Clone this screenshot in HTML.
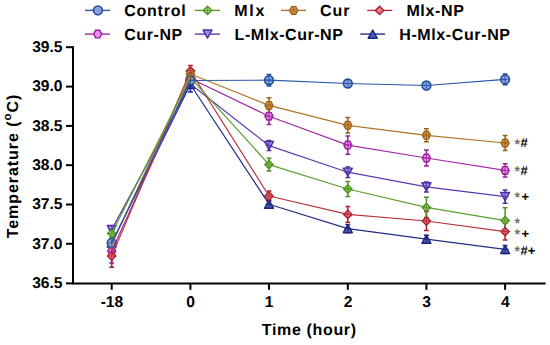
<!DOCTYPE html>
<html><head><meta charset="utf-8"><style>
html,body{margin:0;padding:0;background:#fff;}
body{width:550px;height:345px;overflow:hidden;font-family:"Liberation Sans",sans-serif;}
svg{display:block;}
</style></head><body>
<svg width="550" height="345" viewBox="0 0 550 345" style="text-rendering:geometricPrecision">
<g stroke="#000" stroke-width="2" fill="none">
<path d="M73 46.3V284.4M72 283.4H545.6"/>
<path d="M66 47.2H73"/>
<path d="M66 86.6H73"/>
<path d="M66 125.9H73"/>
<path d="M66 165.2H73"/>
<path d="M66 204.5H73"/>
<path d="M66 243.8H73"/>
<path d="M66 283.4H73"/>
<path d="M111.7 283.4V289.8"/>
<path d="M190.4 283.4V289.8"/>
<path d="M269.0 283.4V289.8"/>
<path d="M347.8 283.4V289.8"/>
<path d="M426.4 283.4V289.8"/>
<path d="M505.1 283.4V289.8"/>
</g>
<g font-family="Liberation Sans, sans-serif" font-weight="bold" font-size="16" fill="#000">
<text x="62.5" y="51.9" text-anchor="end" font-size="15.6">39.5</text>
<text x="62.5" y="91.3" text-anchor="end" font-size="15.6">39.0</text>
<text x="62.5" y="130.6" text-anchor="end" font-size="15.6">38.5</text>
<text x="62.5" y="169.9" text-anchor="end" font-size="15.6">38.0</text>
<text x="62.5" y="209.2" text-anchor="end" font-size="15.6">37.5</text>
<text x="62.5" y="248.5" text-anchor="end" font-size="15.6">37.0</text>
<text x="62.5" y="288.1" text-anchor="end" font-size="15.6">36.5</text>
<text x="111.9" y="306.9" text-anchor="middle" font-size="15.6">-18</text>
<text x="190.6" y="306.9" text-anchor="middle" font-size="15.6">0</text>
<text x="269.2" y="306.9" text-anchor="middle" font-size="15.6">1</text>
<text x="348.0" y="306.9" text-anchor="middle" font-size="15.6">2</text>
<text x="426.6" y="306.9" text-anchor="middle" font-size="15.6">3</text>
<text x="505.3" y="306.9" text-anchor="middle" font-size="15.6">4</text>
<text x="309.3" y="335.4" text-anchor="middle" letter-spacing="0.65">Time (hour)</text>
<text transform="translate(17.6 166.0) rotate(-90)" text-anchor="middle" letter-spacing="0.95">Temperature (<tspan font-size="11.5" dy="-6.2">o</tspan><tspan dy="6.2">C)</tspan></text>
</g>
<path d="M111.70 226.60V232.60M109.30 226.60H114.10M109.30 232.60H114.10" stroke="#4a2ea2" stroke-width="1.5" fill="none"/>
<path d="M190.40 80.00V88.00M188.00 80.00H192.80M188.00 88.00H192.80" stroke="#4a2ea2" stroke-width="1.5" fill="none"/>
<path d="M269.00 140.60V150.60M266.60 140.60H271.40M266.60 150.60H271.40" stroke="#4a2ea2" stroke-width="1.5" fill="none"/>
<path d="M347.80 166.90V177.50M345.40 166.90H350.20M345.40 177.50H350.20" stroke="#4a2ea2" stroke-width="1.5" fill="none"/>
<path d="M426.40 181.90V191.90M424.00 181.90H428.80M424.00 191.90H428.80" stroke="#4a2ea2" stroke-width="1.5" fill="none"/>
<path d="M505.10 190.00V203.20M502.70 190.00H507.50M502.70 203.20H507.50" stroke="#4a2ea2" stroke-width="1.5" fill="none"/>
<path d="M111.70 240.00V246.00M109.30 240.00H114.10M109.30 246.00H114.10" stroke="#1c2580" stroke-width="1.5" fill="none"/>
<path d="M190.40 77.00V92.00M188.00 77.00H192.80M188.00 92.00H192.80" stroke="#1c2580" stroke-width="1.5" fill="none"/>
<path d="M269.00 200.20V208.20M266.60 200.20H271.40M266.60 208.20H271.40" stroke="#1c2580" stroke-width="1.5" fill="none"/>
<path d="M347.80 224.60V232.60M345.40 224.60H350.20M345.40 232.60H350.20" stroke="#1c2580" stroke-width="1.5" fill="none"/>
<path d="M426.40 235.20V243.20M424.00 235.20H428.80M424.00 243.20H428.80" stroke="#1c2580" stroke-width="1.5" fill="none"/>
<path d="M505.10 245.40V253.40M502.70 245.40H507.50M502.70 253.40H507.50" stroke="#1c2580" stroke-width="1.5" fill="none"/>
<path d="M111.70 239.00V263.00M109.30 239.00H114.10M109.30 263.00H114.10" stroke="#9a1c9c" stroke-width="1.5" fill="none"/>
<path d="M190.40 74.50V82.50M188.00 74.50H192.80M188.00 82.50H192.80" stroke="#9a1c9c" stroke-width="1.5" fill="none"/>
<path d="M269.00 107.90V124.50M266.60 107.90H271.40M266.60 124.50H271.40" stroke="#9a1c9c" stroke-width="1.5" fill="none"/>
<path d="M347.80 135.90V154.30M345.40 135.90H350.20M345.40 154.30H350.20" stroke="#9a1c9c" stroke-width="1.5" fill="none"/>
<path d="M426.40 150.00V166.00M424.00 150.00H428.80M424.00 166.00H428.80" stroke="#9a1c9c" stroke-width="1.5" fill="none"/>
<path d="M505.10 163.80V177.00M502.70 163.80H507.50M502.70 177.00H507.50" stroke="#9a1c9c" stroke-width="1.5" fill="none"/>
<path d="M111.70 244.80V267.20M109.30 244.80H114.10M109.30 267.20H114.10" stroke="#b0202e" stroke-width="1.5" fill="none"/>
<path d="M190.40 65.50V76.50M188.00 65.50H192.80M188.00 76.50H192.80" stroke="#b0202e" stroke-width="1.5" fill="none"/>
<path d="M269.00 191.00V201.00M266.60 191.00H271.40M266.60 201.00H271.40" stroke="#b0202e" stroke-width="1.5" fill="none"/>
<path d="M347.80 206.50V222.30M345.40 206.50H350.20M345.40 222.30H350.20" stroke="#b0202e" stroke-width="1.5" fill="none"/>
<path d="M426.40 211.40V230.60M424.00 211.40H428.80M424.00 230.60H428.80" stroke="#b0202e" stroke-width="1.5" fill="none"/>
<path d="M505.10 223.20V240.00M502.70 223.20H507.50M502.70 240.00H507.50" stroke="#b0202e" stroke-width="1.5" fill="none"/>
<path d="M111.70 241.80V247.80M109.30 241.80H114.10M109.30 247.80H114.10" stroke="#9c6018" stroke-width="1.5" fill="none"/>
<path d="M190.40 70.00V78.00M188.00 70.00H192.80M188.00 78.00H192.80" stroke="#9c6018" stroke-width="1.5" fill="none"/>
<path d="M269.00 97.80V113.00M266.60 97.80H271.40M266.60 113.00H271.40" stroke="#9c6018" stroke-width="1.5" fill="none"/>
<path d="M347.80 117.60V133.00M345.40 117.60H350.20M345.40 133.00H350.20" stroke="#9c6018" stroke-width="1.5" fill="none"/>
<path d="M426.40 128.80V141.80M424.00 128.80H428.80M424.00 141.80H428.80" stroke="#9c6018" stroke-width="1.5" fill="none"/>
<path d="M505.10 135.60V150.40M502.70 135.60H507.50M502.70 150.40H507.50" stroke="#9c6018" stroke-width="1.5" fill="none"/>
<path d="M111.70 229.40V237.40M109.30 229.40H114.10M109.30 237.40H114.10" stroke="#4e9424" stroke-width="1.5" fill="none"/>
<path d="M190.40 73.60V81.60M188.00 73.60H192.80M188.00 81.60H192.80" stroke="#4e9424" stroke-width="1.5" fill="none"/>
<path d="M269.00 158.20V171.00M266.60 158.20H271.40M266.60 171.00H271.40" stroke="#4e9424" stroke-width="1.5" fill="none"/>
<path d="M347.80 181.50V196.50M345.40 181.50H350.20M345.40 196.50H350.20" stroke="#4e9424" stroke-width="1.5" fill="none"/>
<path d="M426.40 197.20V217.60M424.00 197.20H428.80M424.00 217.60H428.80" stroke="#4e9424" stroke-width="1.5" fill="none"/>
<path d="M505.10 207.80V233.40M502.70 207.80H507.50M502.70 233.40H507.50" stroke="#4e9424" stroke-width="1.5" fill="none"/>
<path d="M111.70 239.90V245.90M109.30 239.90H114.10M109.30 245.90H114.10" stroke="#1f4b9c" stroke-width="1.5" fill="none"/>
<path d="M190.40 77.50V83.50M188.00 77.50H192.80M188.00 83.50H192.80" stroke="#1f4b9c" stroke-width="1.5" fill="none"/>
<path d="M269.00 74.40V86.00M266.60 74.40H271.40M266.60 86.00H271.40" stroke="#1f4b9c" stroke-width="1.5" fill="none"/>
<path d="M347.80 80.50V86.50M345.40 80.50H350.20M345.40 86.50H350.20" stroke="#1f4b9c" stroke-width="1.5" fill="none"/>
<path d="M426.40 82.50V88.50M424.00 82.50H428.80M424.00 88.50H428.80" stroke="#1f4b9c" stroke-width="1.5" fill="none"/>
<path d="M505.10 74.00V84.80M502.70 74.00H507.50M502.70 84.80H507.50" stroke="#1f4b9c" stroke-width="1.5" fill="none"/>
<polygon points="107.20,225.50 116.20,225.50 111.70,233.60" fill="#a28ade" stroke="#4a2ea2" stroke-width="1.4" stroke-linejoin="round"/>
<path d="M111.70 226.60V232.60M108.30 229.60H115.10" stroke="#4a2ea2" stroke-width="0.8" fill="none"/>
<polygon points="185.90,79.90 194.90,79.90 190.40,88.00" fill="#a28ade" stroke="#4a2ea2" stroke-width="1.4" stroke-linejoin="round"/>
<path d="M190.40 80.40V87.60M187.00 84.00H193.80" stroke="#4a2ea2" stroke-width="0.8" fill="none"/>
<polygon points="264.50,141.50 273.50,141.50 269.00,149.60" fill="#a28ade" stroke="#4a2ea2" stroke-width="1.4" stroke-linejoin="round"/>
<path d="M269.00 142.00V149.20M265.60 145.60H272.40" stroke="#4a2ea2" stroke-width="0.8" fill="none"/>
<polygon points="343.30,168.10 352.30,168.10 347.80,176.20" fill="#a28ade" stroke="#4a2ea2" stroke-width="1.4" stroke-linejoin="round"/>
<path d="M347.80 168.60V175.80M344.40 172.20H351.20" stroke="#4a2ea2" stroke-width="0.8" fill="none"/>
<polygon points="421.90,182.80 430.90,182.80 426.40,190.90" fill="#a28ade" stroke="#4a2ea2" stroke-width="1.4" stroke-linejoin="round"/>
<path d="M426.40 183.30V190.50M423.00 186.90H429.80" stroke="#4a2ea2" stroke-width="0.8" fill="none"/>
<polygon points="500.60,192.50 509.60,192.50 505.10,200.60" fill="#a28ade" stroke="#4a2ea2" stroke-width="1.4" stroke-linejoin="round"/>
<path d="M505.10 193.00V200.20M501.70 196.60H508.50" stroke="#4a2ea2" stroke-width="0.8" fill="none"/>
<polygon points="107.20,247.10 116.20,247.10 111.70,239.00" fill="#4f5dac" stroke="#1c2580" stroke-width="1.4" stroke-linejoin="round"/>
<path d="M111.70 240.00V246.00M108.30 243.00H115.10" stroke="#1c2580" stroke-width="0.8" fill="none"/>
<polygon points="185.90,88.60 194.90,88.60 190.40,80.50" fill="#4f5dac" stroke="#1c2580" stroke-width="1.4" stroke-linejoin="round"/>
<path d="M190.40 80.90V88.10M187.00 84.50H193.80" stroke="#1c2580" stroke-width="0.8" fill="none"/>
<polygon points="264.50,208.30 273.50,208.30 269.00,200.20" fill="#4f5dac" stroke="#1c2580" stroke-width="1.4" stroke-linejoin="round"/>
<path d="M269.00 200.60V207.80M265.60 204.20H272.40" stroke="#1c2580" stroke-width="0.8" fill="none"/>
<polygon points="343.30,232.70 352.30,232.70 347.80,224.60" fill="#4f5dac" stroke="#1c2580" stroke-width="1.4" stroke-linejoin="round"/>
<path d="M347.80 225.00V232.20M344.40 228.60H351.20" stroke="#1c2580" stroke-width="0.8" fill="none"/>
<polygon points="421.90,243.30 430.90,243.30 426.40,235.20" fill="#4f5dac" stroke="#1c2580" stroke-width="1.4" stroke-linejoin="round"/>
<path d="M426.40 235.60V242.80M423.00 239.20H429.80" stroke="#1c2580" stroke-width="0.8" fill="none"/>
<polygon points="500.60,253.50 509.60,253.50 505.10,245.40" fill="#4f5dac" stroke="#1c2580" stroke-width="1.4" stroke-linejoin="round"/>
<path d="M505.10 245.80V253.00M501.70 249.40H508.50" stroke="#1c2580" stroke-width="0.8" fill="none"/>
<polygon points="107.65,251.00 109.67,247.20 113.73,247.20 115.75,251.00 113.73,254.80 109.67,254.80" fill="#e890e8" stroke="#9a1c9c" stroke-width="1.4"/>
<path d="M111.70 247.40V254.60M108.30 251.00H115.10" stroke="#9a1c9c" stroke-width="0.8" fill="none"/>
<polygon points="186.35,78.50 188.38,74.70 192.43,74.70 194.45,78.50 192.43,82.30 188.38,82.30" fill="#e890e8" stroke="#9a1c9c" stroke-width="1.4"/>
<path d="M190.40 74.90V82.10M187.00 78.50H193.80" stroke="#9a1c9c" stroke-width="0.8" fill="none"/>
<polygon points="264.95,116.20 266.98,112.40 271.02,112.40 273.05,116.20 271.02,120.00 266.98,120.00" fill="#e890e8" stroke="#9a1c9c" stroke-width="1.4"/>
<path d="M269.00 112.60V119.80M265.60 116.20H272.40" stroke="#9a1c9c" stroke-width="0.8" fill="none"/>
<polygon points="343.75,145.10 345.78,141.30 349.82,141.30 351.85,145.10 349.82,148.90 345.78,148.90" fill="#e890e8" stroke="#9a1c9c" stroke-width="1.4"/>
<path d="M347.80 141.50V148.70M344.40 145.10H351.20" stroke="#9a1c9c" stroke-width="0.8" fill="none"/>
<polygon points="422.35,158.00 424.38,154.20 428.42,154.20 430.45,158.00 428.42,161.80 424.38,161.80" fill="#e890e8" stroke="#9a1c9c" stroke-width="1.4"/>
<path d="M426.40 154.40V161.60M423.00 158.00H429.80" stroke="#9a1c9c" stroke-width="0.8" fill="none"/>
<polygon points="501.05,170.40 503.08,166.60 507.12,166.60 509.15,170.40 507.12,174.20 503.08,174.20" fill="#e890e8" stroke="#9a1c9c" stroke-width="1.4"/>
<path d="M505.10 166.80V174.00M501.70 170.40H508.50" stroke="#9a1c9c" stroke-width="0.8" fill="none"/>
<polygon points="111.70,251.80 115.90,256.00 111.70,260.20 107.50,256.00" fill="#e88088" stroke="#b0202e" stroke-width="1.4"/>
<path d="M111.70 252.40V259.60M108.30 256.00H115.10" stroke="#b0202e" stroke-width="0.8" fill="none"/>
<polygon points="190.40,66.80 194.60,71.00 190.40,75.20 186.20,71.00" fill="#e88088" stroke="#b0202e" stroke-width="1.4"/>
<path d="M190.40 67.40V74.60M187.00 71.00H193.80" stroke="#b0202e" stroke-width="0.8" fill="none"/>
<polygon points="269.00,191.80 273.20,196.00 269.00,200.20 264.80,196.00" fill="#e88088" stroke="#b0202e" stroke-width="1.4"/>
<path d="M269.00 192.40V199.60M265.60 196.00H272.40" stroke="#b0202e" stroke-width="0.8" fill="none"/>
<polygon points="347.80,210.20 352.00,214.40 347.80,218.60 343.60,214.40" fill="#e88088" stroke="#b0202e" stroke-width="1.4"/>
<path d="M347.80 210.80V218.00M344.40 214.40H351.20" stroke="#b0202e" stroke-width="0.8" fill="none"/>
<polygon points="426.40,216.80 430.60,221.00 426.40,225.20 422.20,221.00" fill="#e88088" stroke="#b0202e" stroke-width="1.4"/>
<path d="M426.40 217.40V224.60M423.00 221.00H429.80" stroke="#b0202e" stroke-width="0.8" fill="none"/>
<polygon points="505.10,227.40 509.30,231.60 505.10,235.80 500.90,231.60" fill="#e88088" stroke="#b0202e" stroke-width="1.4"/>
<path d="M505.10 228.00V235.20M501.70 231.60H508.50" stroke="#b0202e" stroke-width="0.8" fill="none"/>
<polygon points="107.65,244.80 109.67,241.00 113.73,241.00 115.75,244.80 113.73,248.60 109.67,248.60" fill="#d9a258" stroke="#9c6018" stroke-width="1.4"/><line x1="111.70" y1="241.80" x2="111.70" y2="247.80" stroke="#9c6018" stroke-width="0.8"/><line x1="109.10" y1="243.30" x2="114.30" y2="246.30" stroke="#9c6018" stroke-width="0.8"/><line x1="114.30" y1="243.30" x2="109.10" y2="246.30" stroke="#9c6018" stroke-width="0.8"/>
<path d="M111.70 241.80V247.80M108.30 244.80H115.10" stroke="#9c6018" stroke-width="0.8" fill="none"/>
<polygon points="186.35,74.00 188.38,70.20 192.43,70.20 194.45,74.00 192.43,77.80 188.38,77.80" fill="#d9a258" stroke="#9c6018" stroke-width="1.4"/><line x1="190.40" y1="71.00" x2="190.40" y2="77.00" stroke="#9c6018" stroke-width="0.8"/><line x1="187.80" y1="72.50" x2="193.00" y2="75.50" stroke="#9c6018" stroke-width="0.8"/><line x1="193.00" y1="72.50" x2="187.80" y2="75.50" stroke="#9c6018" stroke-width="0.8"/>
<path d="M190.40 70.40V77.60M187.00 74.00H193.80" stroke="#9c6018" stroke-width="0.8" fill="none"/>
<polygon points="264.95,105.40 266.98,101.60 271.02,101.60 273.05,105.40 271.02,109.20 266.98,109.20" fill="#d9a258" stroke="#9c6018" stroke-width="1.4"/><line x1="269.00" y1="102.40" x2="269.00" y2="108.40" stroke="#9c6018" stroke-width="0.8"/><line x1="266.40" y1="103.90" x2="271.60" y2="106.90" stroke="#9c6018" stroke-width="0.8"/><line x1="271.60" y1="103.90" x2="266.40" y2="106.90" stroke="#9c6018" stroke-width="0.8"/>
<path d="M269.00 101.80V109.00M265.60 105.40H272.40" stroke="#9c6018" stroke-width="0.8" fill="none"/>
<polygon points="343.75,125.30 345.78,121.50 349.82,121.50 351.85,125.30 349.82,129.10 345.78,129.10" fill="#d9a258" stroke="#9c6018" stroke-width="1.4"/><line x1="347.80" y1="122.30" x2="347.80" y2="128.30" stroke="#9c6018" stroke-width="0.8"/><line x1="345.20" y1="123.80" x2="350.40" y2="126.80" stroke="#9c6018" stroke-width="0.8"/><line x1="350.40" y1="123.80" x2="345.20" y2="126.80" stroke="#9c6018" stroke-width="0.8"/>
<path d="M347.80 121.70V128.90M344.40 125.30H351.20" stroke="#9c6018" stroke-width="0.8" fill="none"/>
<polygon points="422.35,135.30 424.38,131.50 428.42,131.50 430.45,135.30 428.42,139.10 424.38,139.10" fill="#d9a258" stroke="#9c6018" stroke-width="1.4"/><line x1="426.40" y1="132.30" x2="426.40" y2="138.30" stroke="#9c6018" stroke-width="0.8"/><line x1="423.80" y1="133.80" x2="429.00" y2="136.80" stroke="#9c6018" stroke-width="0.8"/><line x1="429.00" y1="133.80" x2="423.80" y2="136.80" stroke="#9c6018" stroke-width="0.8"/>
<path d="M426.40 131.70V138.90M423.00 135.30H429.80" stroke="#9c6018" stroke-width="0.8" fill="none"/>
<polygon points="501.05,143.00 503.08,139.20 507.12,139.20 509.15,143.00 507.12,146.80 503.08,146.80" fill="#d9a258" stroke="#9c6018" stroke-width="1.4"/><line x1="505.10" y1="140.00" x2="505.10" y2="146.00" stroke="#9c6018" stroke-width="0.8"/><line x1="502.50" y1="141.50" x2="507.70" y2="144.50" stroke="#9c6018" stroke-width="0.8"/><line x1="507.70" y1="141.50" x2="502.50" y2="144.50" stroke="#9c6018" stroke-width="0.8"/>
<path d="M505.10 139.40V146.60M501.70 143.00H508.50" stroke="#9c6018" stroke-width="0.8" fill="none"/>
<polygon points="111.70,229.20 115.90,233.40 111.70,237.60 107.50,233.40" fill="#a5d67f" stroke="#4e9424" stroke-width="1.4"/><path d="M108.70 233.40H114.70M111.70 230.40V236.40" stroke="#4e9424" stroke-width="0.8"/>
<path d="M111.70 229.80V237.00M108.30 233.40H115.10" stroke="#4e9424" stroke-width="0.8" fill="none"/>
<polygon points="190.40,73.40 194.60,77.60 190.40,81.80 186.20,77.60" fill="#a5d67f" stroke="#4e9424" stroke-width="1.4"/><path d="M187.40 77.60H193.40M190.40 74.60V80.60" stroke="#4e9424" stroke-width="0.8"/>
<path d="M190.40 74.00V81.20M187.00 77.60H193.80" stroke="#4e9424" stroke-width="0.8" fill="none"/>
<polygon points="269.00,160.40 273.20,164.60 269.00,168.80 264.80,164.60" fill="#a5d67f" stroke="#4e9424" stroke-width="1.4"/><path d="M266.00 164.60H272.00M269.00 161.60V167.60" stroke="#4e9424" stroke-width="0.8"/>
<path d="M269.00 161.00V168.20M265.60 164.60H272.40" stroke="#4e9424" stroke-width="0.8" fill="none"/>
<polygon points="347.80,184.80 352.00,189.00 347.80,193.20 343.60,189.00" fill="#a5d67f" stroke="#4e9424" stroke-width="1.4"/><path d="M344.80 189.00H350.80M347.80 186.00V192.00" stroke="#4e9424" stroke-width="0.8"/>
<path d="M347.80 185.40V192.60M344.40 189.00H351.20" stroke="#4e9424" stroke-width="0.8" fill="none"/>
<polygon points="426.40,203.20 430.60,207.40 426.40,211.60 422.20,207.40" fill="#a5d67f" stroke="#4e9424" stroke-width="1.4"/><path d="M423.40 207.40H429.40M426.40 204.40V210.40" stroke="#4e9424" stroke-width="0.8"/>
<path d="M426.40 203.80V211.00M423.00 207.40H429.80" stroke="#4e9424" stroke-width="0.8" fill="none"/>
<polygon points="505.10,216.40 509.30,220.60 505.10,224.80 500.90,220.60" fill="#a5d67f" stroke="#4e9424" stroke-width="1.4"/><path d="M502.10 220.60H508.10M505.10 217.60V223.60" stroke="#4e9424" stroke-width="0.8"/>
<path d="M505.10 217.00V224.20M501.70 220.60H508.50" stroke="#4e9424" stroke-width="0.8" fill="none"/>
<circle cx="111.70" cy="242.90" r="4.4" fill="#86a4da" stroke="#1f4b9c" stroke-width="1.6"/>
<path d="M111.70 239.90V245.90M108.30 242.90H115.10" stroke="#1f4b9c" stroke-width="0.8" fill="none"/>
<circle cx="190.40" cy="80.50" r="4.4" fill="#86a4da" stroke="#1f4b9c" stroke-width="1.6"/>
<path d="M190.40 77.50V83.50M187.00 80.50H193.80" stroke="#1f4b9c" stroke-width="0.8" fill="none"/>
<circle cx="269.00" cy="80.20" r="4.4" fill="#86a4da" stroke="#1f4b9c" stroke-width="1.6"/>
<path d="M269.00 76.60V83.80M265.60 80.20H272.40" stroke="#1f4b9c" stroke-width="0.8" fill="none"/>
<circle cx="347.80" cy="83.50" r="4.4" fill="#86a4da" stroke="#1f4b9c" stroke-width="1.6"/>
<path d="M347.80 80.50V86.50M344.40 83.50H351.20" stroke="#1f4b9c" stroke-width="0.8" fill="none"/>
<circle cx="426.40" cy="85.50" r="4.4" fill="#86a4da" stroke="#1f4b9c" stroke-width="1.6"/>
<path d="M426.40 82.50V88.50M423.00 85.50H429.80" stroke="#1f4b9c" stroke-width="0.8" fill="none"/>
<circle cx="505.10" cy="79.40" r="4.4" fill="#86a4da" stroke="#1f4b9c" stroke-width="1.6"/>
<path d="M505.10 75.80V83.00M501.70 79.40H508.50" stroke="#1f4b9c" stroke-width="0.8" fill="none"/>
<polyline points="111.70,229.60 190.40,84.00 269.00,145.60 347.80,172.20 426.40,186.90 505.10,196.60" fill="none" stroke="#5a3cae" stroke-width="1.2" stroke-linejoin="round"/>
<polyline points="111.70,243.00 190.40,84.50 269.00,204.20 347.80,228.60 426.40,239.20 505.10,249.40" fill="none" stroke="#242c88" stroke-width="1.2" stroke-linejoin="round"/>
<polyline points="111.70,251.00 190.40,78.50 269.00,116.20 347.80,145.10 426.40,158.00 505.10,170.40" fill="none" stroke="#a42aa6" stroke-width="1.2" stroke-linejoin="round"/>
<polyline points="111.70,256.00 190.40,71.00 269.00,196.00 347.80,214.40 426.40,221.00 505.10,231.60" fill="none" stroke="#b8323c" stroke-width="1.2" stroke-linejoin="round"/>
<polyline points="111.70,244.80 190.40,74.00 269.00,105.40 347.80,125.30 426.40,135.30 505.10,143.00" fill="none" stroke="#b27426" stroke-width="1.2" stroke-linejoin="round"/>
<polyline points="111.70,233.40 190.40,77.60 269.00,164.60 347.80,189.00 426.40,207.40 505.10,220.60" fill="none" stroke="#5a9e2e" stroke-width="1.2" stroke-linejoin="round"/>
<polyline points="111.70,242.90 190.40,80.50 269.00,80.20 347.80,83.50 426.40,85.50 505.10,79.40" fill="none" stroke="#2c58a6" stroke-width="1.2" stroke-linejoin="round"/>
<text x="514.4" y="148.9" font-family="Liberation Sans, sans-serif" font-size="14" fill="#5a5a5a" stroke="#5a5a5a" stroke-width="0.3">*</text>
<text x="520.5" y="147.2" font-family="Liberation Sans, sans-serif" font-weight="bold" font-size="13" fill="#000">#</text>
<text x="514.4" y="175.5" font-family="Liberation Sans, sans-serif" font-size="14" fill="#5a5a5a" stroke="#5a5a5a" stroke-width="0.3">*</text>
<text x="520.5" y="174.9" font-family="Liberation Sans, sans-serif" font-weight="bold" font-size="13" fill="#000">#</text>
<text x="514.4" y="201.9" font-family="Liberation Sans, sans-serif" font-size="14" fill="#5a5a5a" stroke="#5a5a5a" stroke-width="0.3">*</text>
<text x="521.6" y="200.8" font-family="Liberation Sans, sans-serif" font-weight="bold" font-size="13" fill="#000">+</text>
<text x="514.4" y="228.2" font-family="Liberation Sans, sans-serif" font-size="14" fill="#5a5a5a" stroke="#5a5a5a" stroke-width="0.3">*</text>
<text x="514.4" y="238.5" font-family="Liberation Sans, sans-serif" font-size="14" fill="#5a5a5a" stroke="#5a5a5a" stroke-width="0.3">*</text>
<text x="521.6" y="237.7" font-family="Liberation Sans, sans-serif" font-weight="bold" font-size="13" fill="#000">+</text>
<text x="514.4" y="255.9" font-family="Liberation Sans, sans-serif" font-size="14" fill="#5a5a5a" stroke="#5a5a5a" stroke-width="0.3">*</text>
<text x="520.5" y="255.2" font-family="Liberation Sans, sans-serif" font-weight="bold" font-size="13" fill="#000">#+</text>
<path d="M85 10.4H110" stroke="#2c58a6" stroke-width="1.4"/>
<circle cx="97.90" cy="10.40" r="4.4" fill="#86a4da" stroke="#1f4b9c" stroke-width="1.6"/>
<text x="124.2" y="15.9" font-family="Liberation Sans, sans-serif" font-weight="bold" font-size="16" textLength="61.5" lengthAdjust="spacing" fill="#000">Control</text>
<path d="M194.8 10.4H220" stroke="#5a9e2e" stroke-width="1.4"/>
<polygon points="207.50,6.20 211.70,10.40 207.50,14.60 203.30,10.40" fill="#a5d67f" stroke="#4e9424" stroke-width="1.4"/><path d="M204.50 10.40H210.50M207.50 7.40V13.40" stroke="#4e9424" stroke-width="0.8"/>
<text x="234.3" y="15.9" font-family="Liberation Sans, sans-serif" font-weight="bold" font-size="16" textLength="30.0" lengthAdjust="spacing" fill="#000">Mlx</text>
<path d="M281 10.4H306" stroke="#b27426" stroke-width="1.4"/>
<polygon points="289.65,10.40 291.68,6.60 295.72,6.60 297.75,10.40 295.72,14.20 291.68,14.20" fill="#d9a258" stroke="#9c6018" stroke-width="1.4"/><line x1="293.70" y1="7.40" x2="293.70" y2="13.40" stroke="#9c6018" stroke-width="0.8"/><line x1="291.10" y1="8.90" x2="296.30" y2="11.90" stroke="#9c6018" stroke-width="0.8"/><line x1="296.30" y1="8.90" x2="291.10" y2="11.90" stroke="#9c6018" stroke-width="0.8"/>
<text x="319.9" y="15.9" font-family="Liberation Sans, sans-serif" font-weight="bold" font-size="16" textLength="29.6" lengthAdjust="spacing" fill="#000">Cur</text>
<path d="M367.2 10.4H392.3" stroke="#b8323c" stroke-width="1.4"/>
<polygon points="379.60,6.20 383.80,10.40 379.60,14.60 375.40,10.40" fill="#e88088" stroke="#b0202e" stroke-width="1.4"/>
<text x="406.4" y="15.9" font-family="Liberation Sans, sans-serif" font-weight="bold" font-size="16" textLength="57.4" lengthAdjust="spacing" fill="#000">Mlx-NP</text>
<path d="M85 34.1H110" stroke="#a42aa6" stroke-width="1.4"/>
<polygon points="93.65,34.10 95.67,30.30 99.73,30.30 101.75,34.10 99.73,37.90 95.67,37.90" fill="#e890e8" stroke="#9a1c9c" stroke-width="1.4"/>
<text x="124.2" y="39.5" font-family="Liberation Sans, sans-serif" font-weight="bold" font-size="16" textLength="58.0" lengthAdjust="spacing" fill="#000">Cur-NP</text>
<path d="M194.8 34.1H220" stroke="#5a3cae" stroke-width="1.4"/>
<polygon points="203.00,30.00 212.00,30.00 207.50,38.10" fill="#a28ade" stroke="#4a2ea2" stroke-width="1.4" stroke-linejoin="round"/>
<text x="234.6" y="39.5" font-family="Liberation Sans, sans-serif" font-weight="bold" font-size="16" textLength="108.3" lengthAdjust="spacing" fill="#000">L-Mlx-Cur-NP</text>
<path d="M360.2 34.1H385" stroke="#242c88" stroke-width="1.4"/>
<polygon points="368.20,38.20 377.20,38.20 372.70,30.10" fill="#4f5dac" stroke="#1c2580" stroke-width="1.4" stroke-linejoin="round"/>
<text x="399.2" y="39.5" font-family="Liberation Sans, sans-serif" font-weight="bold" font-size="16" textLength="110.8" lengthAdjust="spacing" fill="#000">H-Mlx-Cur-NP</text>
</svg>
</body></html>
